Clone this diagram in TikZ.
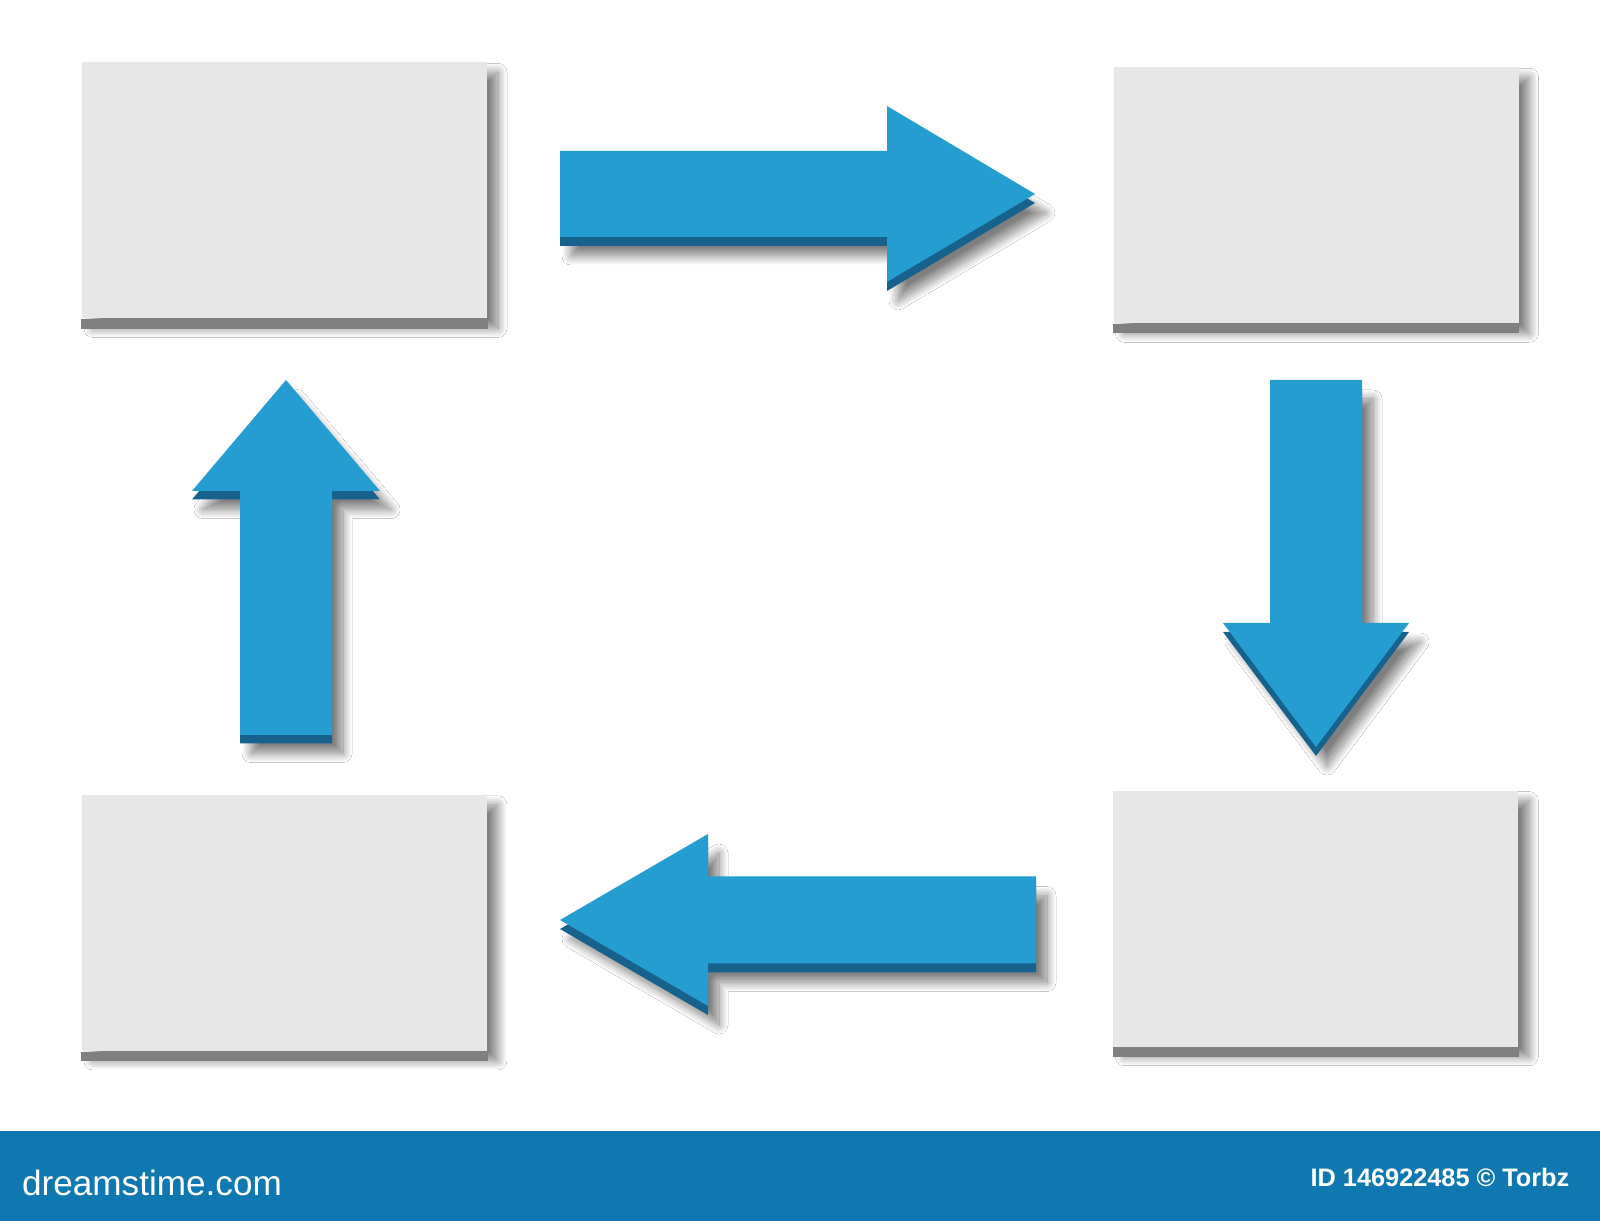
\documentclass[tikz,border=0pt]{standalone}
\usepackage{fontspec}
\setmainfont{Liberation Sans}
\usetikzlibrary{shadows.blur}

\definecolor{cardgrey}{RGB}{231,231,231}
\definecolor{edgegrey}{RGB}{128,128,128}
\definecolor{arrowblue}{RGB}{37,157,208}
\definecolor{arrowdark}{RGB}{22,98,140}
\definecolor{bannerblue}{RGB}{16,120,176}

\tikzset{
  soft shadow/.style={blur shadow={shadow xshift=1.1mm, shadow yshift=-1mm,
      shadow blur radius=0.9mm, shadow blur steps=20, shadow opacity=50}},
  cardbox/.style={rectangle, fill=cardgrey, inner sep=0pt,
      minimum width=40.5mm, minimum height=25.6mm, soft shadow},
  cardedge/.style={fill=edgegrey},
  arrowface/.style={fill=arrowblue},
  arrowside/.style={fill=arrowdark, soft shadow},
  bannertext/.style={text=white, inner sep=0pt, anchor=base}
}

\begin{document}
\begin{tikzpicture}[x=0.1mm,y=-0.1mm]

\useasboundingbox (0,0) rectangle (1600,1221);
\fill[white] (0,0) rectangle (1600,1221);

\coordinate (top-left-label) at (284.5,190.4);
\coordinate (top-right-label) at (1316,195.3);
\coordinate (bottom-right-label) at (1315.8,918.7);
\coordinate (bottom-left-label) at (284.4,922.9);

\coordinate (right-tail) at (560,194);
\coordinate (down-tail) at (1316,380);
\coordinate (left-tail) at (1036,920);
\coordinate (up-tail) at (286,735);

% boxes
\node [cardbox] (top-left-box) at (top-left-label) {};
\node [cardbox] (top-right-box) at (top-right-label) {};
\node [cardbox] (bottom-right-box) at (bottom-right-label) {};
\node [cardbox] (bottom-left-box) at (bottom-left-label) {};

\fill [cardedge] (top-left-box.south west) rectangle ([yshift=-0.95mm]top-left-box.south east);
\fill [cardedge] (top-right-box.south west) rectangle ([yshift=-0.95mm]top-right-box.south east);
\fill [cardedge] (bottom-right-box.south west) rectangle ([yshift=-0.95mm]bottom-right-box.south east);
\fill [cardedge] (bottom-left-box.south west) rectangle ([yshift=-0.95mm]bottom-left-box.south east);

% arrows
\fill [arrowside] ([yshift=-0.9mm]right-tail) +(0,-43) -- +(327,-43) -- +(327,-88) -- +(475,0) -- +(327,88) -- +(327,43) -- +(0,43) -- cycle;
\fill [arrowface] (right-tail) +(0,-43) -- +(327,-43) -- +(327,-88) -- +(475,0) -- +(327,88) -- +(327,43) -- +(0,43) -- cycle;

\fill [arrowside] ([yshift=-0.9mm]down-tail) +(-46,0) -- +(-46,243) -- +(-93,243) -- +(0,367) -- +(93,243) -- +(46,243) -- +(46,0) -- cycle;
\fill [arrowface] (down-tail) +(-46,0) -- +(-46,243) -- +(-93,243) -- +(0,367) -- +(93,243) -- +(46,243) -- +(46,0) -- cycle;

\fill [arrowside] ([yshift=-0.9mm]left-tail) +(0,-43.5) -- +(-328,-43.5) -- +(-328,-86) -- +(-476,0) -- +(-328,86) -- +(-328,43.5) -- +(0,43.5) -- cycle;
\fill [arrowface] (left-tail) +(0,-43.5) -- +(-328,-43.5) -- +(-328,-86) -- +(-476,0) -- +(-328,86) -- +(-328,43.5) -- +(0,43.5) -- cycle;

\fill [arrowside] ([yshift=-0.85mm]up-tail) +(-46,0) -- +(-46,-244) -- +(-94,-244) -- +(0,-355) -- +(94,-244) -- +(46,-244) -- +(46,0) -- cycle;
\fill [arrowface] (up-tail) +(-46,0) -- +(-46,-244) -- +(-94,-244) -- +(0,-355) -- +(94,-244) -- +(46,-244) -- +(46,0) -- cycle;

% banner
\fill [bannerblue] (0,1131) rectangle (1600,1221);
\node [bannertext, font=\fontsize{10}{12}\selectfont] (site-label) at (152,1196) {dreamstime.com};
\node [bannertext, font=\fontsize{7.2}{9}\selectfont\bfseries] (id-label) at (1440,1187) {ID 146922485 © Torbz};

\end{tikzpicture}
\end{document}
